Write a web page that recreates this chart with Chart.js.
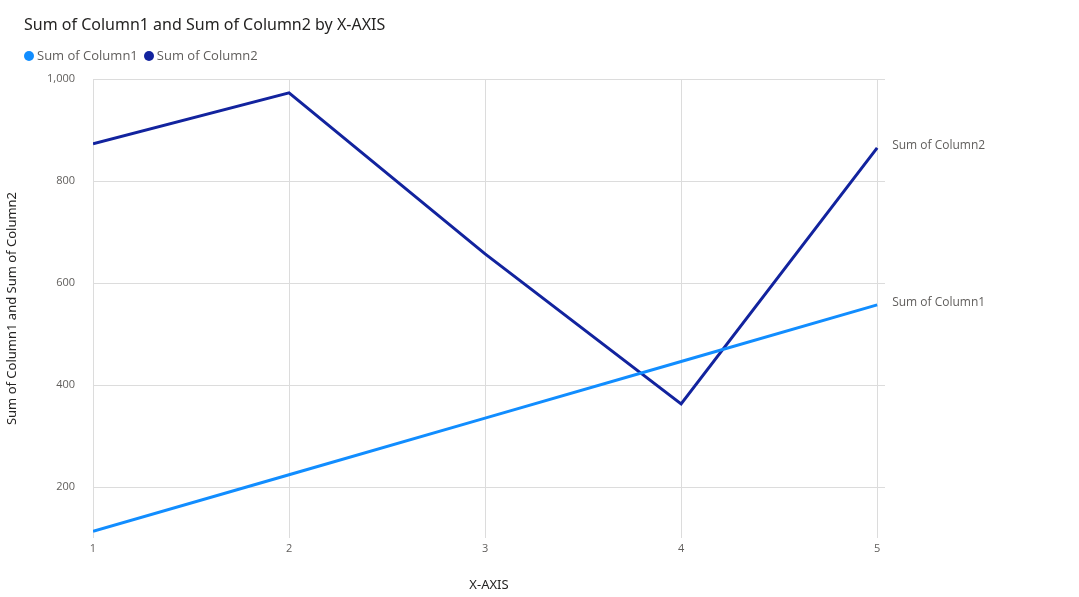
<!DOCTYPE html>
<html><head><meta charset="utf-8">
<script src="https://cdn.jsdelivr.net/npm/chart.js@4/dist/chart.umd.min.js"></script>
<style>
html,body{margin:0;padding:0;background:#fff;width:1079px;height:597px;overflow:hidden;font-family:"Open Sans",sans-serif}
#title{position:absolute;left:24px;top:13px;font-size:16px;color:#252423;font-family:"Noto Sans",sans-serif}
#legend{position:absolute;left:24px;top:46px;font-size:13px;color:#605e5c;display:flex;gap:6px;align-items:center}
.dot{display:inline-block;width:10px;height:10px;border-radius:50%;margin-right:3px;vertical-align:-1px}
#wrap{position:absolute;left:0;top:0;width:1079px;height:597px}
</style></head><body>
<div id="wrap"><canvas id="c" width="1079" height="597"></canvas></div>
<div id="title">Sum of Column1 and Sum of Column2 by X-AXIS</div>
<div id="legend"><span><span class="dot" style="background:#118DFF"></span>Sum of Column1</span><span><span class="dot" style="background:#12239E"></span>Sum of Column2</span></div>
<script>
const categories=[1,2,3,4,5];
const column1=[113,224,335,446,557];
const column2=[873,973,657,363,865];
const yTicks=[200,400,600,800,1000];
const seriesNames=["Sum of Column1","Sum of Column2"];
const colors=["#118DFF","#12239E"];
const endLabels={id:'endLabels',afterDatasetsDraw(ch){
  const ctx=ch.ctx;ctx.save();ctx.font='12px "Open Sans"';ctx.fillStyle='#605e5c';ctx.textBaseline='middle';
  ch.data.datasets.forEach((d,i)=>{const m=ch.getDatasetMeta(i).data;const p=m[m.length-1];ctx.fillText(d.label,p.x+15,p.y-2);});
  ctx.restore();}};
new Chart(document.getElementById('c'),{type:'line',
 data:{datasets:[column1,column2].map((v,i)=>({label:seriesNames[i],data:categories.map((x,j)=>({x:x,y:v[j]})),borderColor:colors[i],backgroundColor:colors[i],borderWidth:3,pointRadius:0,tension:0}))},
 options:{responsive:false,animation:false,layout:{padding:{top:79,right:194,left:0,bottom:0}},
  plugins:{legend:{display:false},tooltip:{enabled:false}},
  scales:{
   x:{type:'linear',min:1,max:5.04,afterBuildTicks:s=>{s.ticks=categories.map(v=>({value:v}));},afterFit:s=>{s.height=59;},
      grid:{color:'#dcdcdc',borderDash:[1,3],drawTicks:false},border:{display:false},
      ticks:{color:'#605e5c',font:{size:11,family:'"Open Sans"'},padding:4},
      title:{display:true,text:'X-AXIS',color:'#252423',font:{size:13,family:'"Noto Sans"'},padding:{top:8}}},
   y:{min:100,max:1000,afterBuildTicks:s=>{s.ticks=yTicks.map(v=>({value:v}));},afterFit:s=>{s.width=93;},
      grid:{color:'#dcdcdc',borderDash:[1,3],drawTicks:false},border:{display:false},
      ticks:{color:'#605e5c',font:{size:11,family:'"Open Sans"'},padding:18},
      title:{display:true,text:'Sum of Column1 and Sum of Column2',color:'#252423',font:{size:13,family:'"Noto Sans"'},padding:{bottom:6}}}
  }},plugins:[endLabels]});
</script></body></html>
